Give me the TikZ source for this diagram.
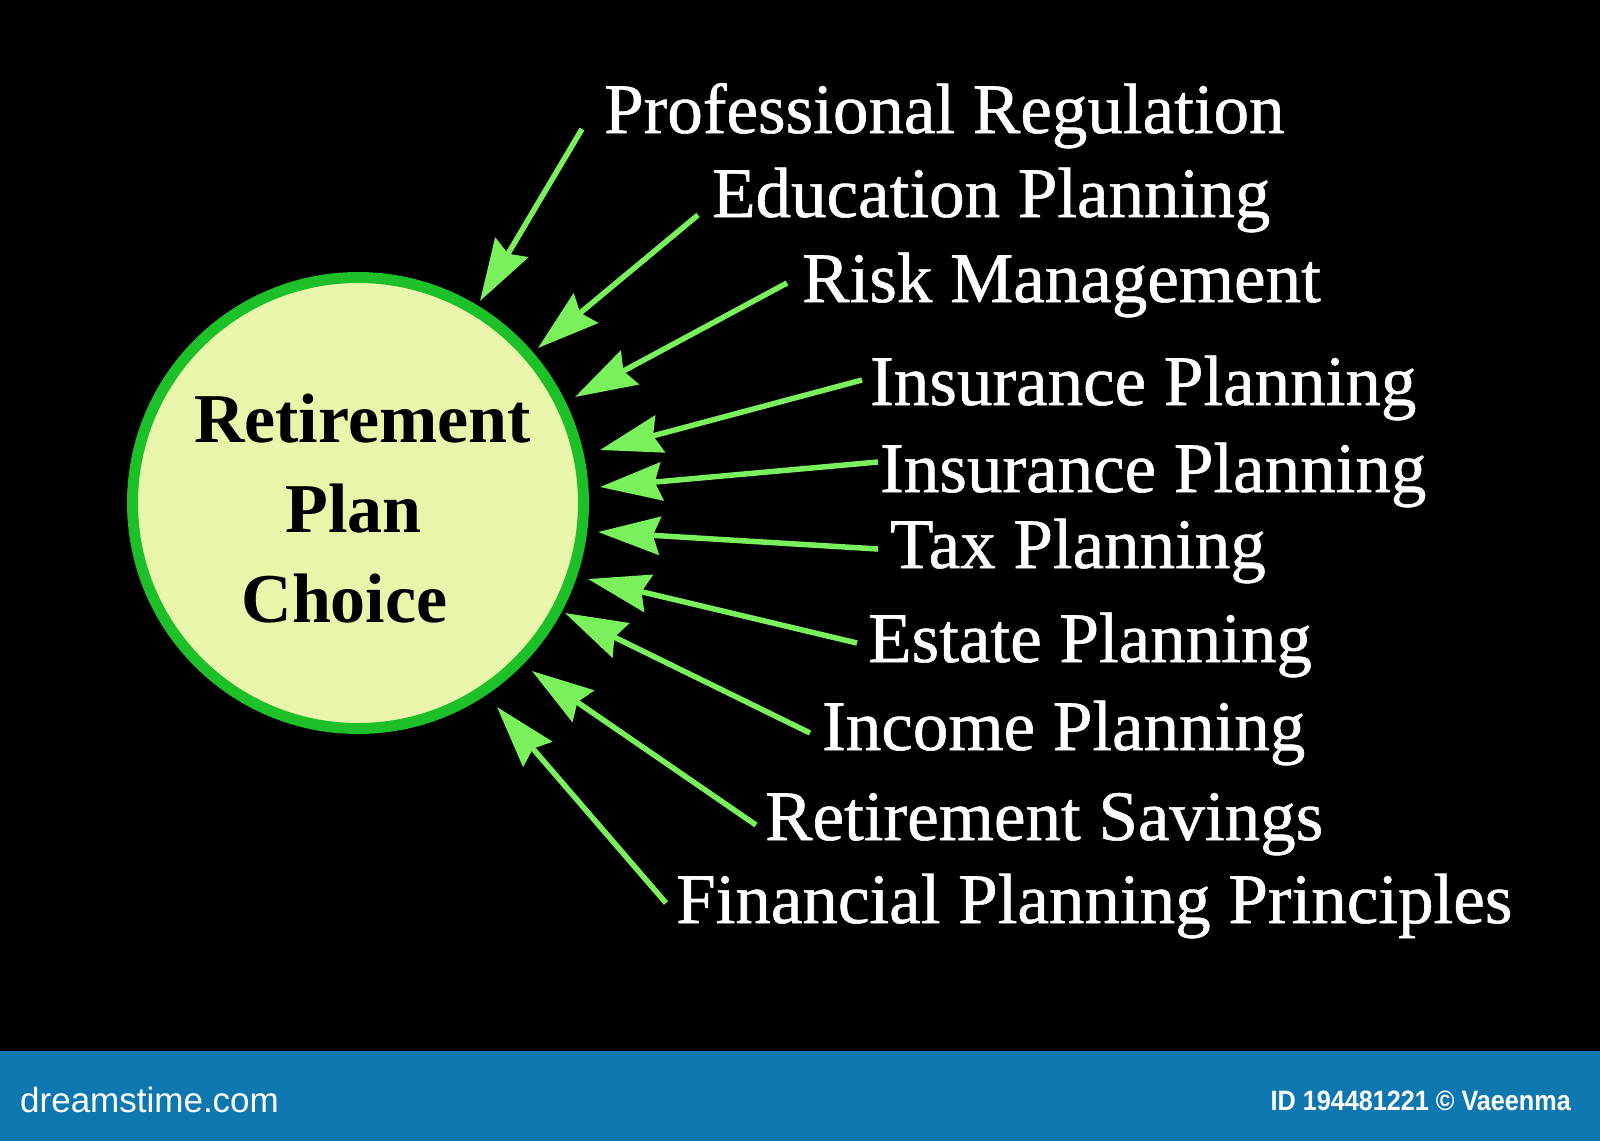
\documentclass[tikz,border=0pt]{standalone}
\usepackage{fontspec}
\setmainfont{Liberation Serif}
\newfontfamily\lblfont{Liberation Serif}[FakeBold=0.8]
\newfontfamily\barfont{Liberation Sans}
\usetikzlibrary{arrows.meta}
\definecolor{bgblack}{RGB}{0,0,0}
\definecolor{arrowgreen}{RGB}{122,240,92}
\definecolor{ringgreen}{RGB}{30,192,42}
\definecolor{discfill}{RGB}{232,245,170}
\definecolor{barblue}{RGB}{14,119,175}
\tikzset{
  lbl/.style={anchor=base west, text=white, inner sep=0pt, font=\lblfont\fontsize{71}{80}\selectfont},
  ctr/.style={anchor=base, text=black, inner sep=0pt, font=\fontsize{70}{80}\selectfont\bfseries},
  feed/.style={draw=arrowgreen, line width=5.5pt, -{Stealth[length=62pt,width=38pt,inset=7pt]}},
  disc/.style={circle, draw=ringgreen, fill=discfill, line width=11pt, minimum size=451pt, inner sep=0pt}
}
\begin{document}
\begin{tikzpicture}[x=1pt,y=-1pt]
\useasboundingbox (0,0) rectangle (1600,1141);
\fill[bgblack] (0,0) rectangle (1600,1051);
\fill[barblue] (0,1051) rectangle (1600,1141);

\node[disc] (c) at (358,503) {};
\node[ctr] (t1) at (362.5,442) {Retirement};
\node[ctr] (t2) at (353.5,532) {Plan};
\node[ctr] (t3) at (344.5,622) {Choice};

\node[lbl] (l1) at (604,133) {Professional Regulation};
\node[lbl] (l2) at (712,217) {Education Planning};
\node[lbl] (l3) at (802,302) {Risk Management};
\node[lbl] (l4) at (870,405) {Insurance Planning};
\node[lbl] (l5) at (880,492) {Insurance Planning};
\node[lbl] (l6) at (890,568) {Tax Planning};
\node[lbl] (l7) at (868,662) {Estate Planning};
\node[lbl] (l8) at (822,750) {Income Planning};
\node[lbl] (l9) at (765,840) {Retirement Savings};
\node[lbl] (l10) at (676,923) {Financial Planning Principles};

\coordinate (a1) at (582,129);  \coordinate (b1) at (480,301);
\coordinate (a2) at (698,215);  \coordinate (b2) at (538,348);
\coordinate (a3) at (787,283);  \coordinate (b3) at (575,397);
\coordinate (a4) at (862,380);  \coordinate (b4) at (600,450);
\coordinate (a5) at (878,462);  \coordinate (b5) at (600,487);
\coordinate (a6) at (878,549);  \coordinate (b6) at (598,532);
\coordinate (a7) at (857,643);  \coordinate (b7) at (588,579);
\coordinate (a8) at (810,733);  \coordinate (b8) at (565,613);
\coordinate (a9) at (756,825);  \coordinate (b9) at (532,671);
\coordinate (a10) at (666,903); \coordinate (b10) at (497,707);
\foreach \i in {1,...,10} {\draw[feed] (a\i) -- (b\i);}

\node[anchor=base west, text=white, inner sep=0pt, font=\barfont\fontsize{35}{40}\selectfont] (wm) at (20,1112) {dreamstime.com};
\node[anchor=base east, text=white, inner sep=0pt, font=\barfont\bfseries\fontsize{28}{32}\selectfont] (id) at (1571,1110) {\scalebox{0.9}[1]{ID 194481221 © Vaeenma}};
\end{tikzpicture}
\end{document}
